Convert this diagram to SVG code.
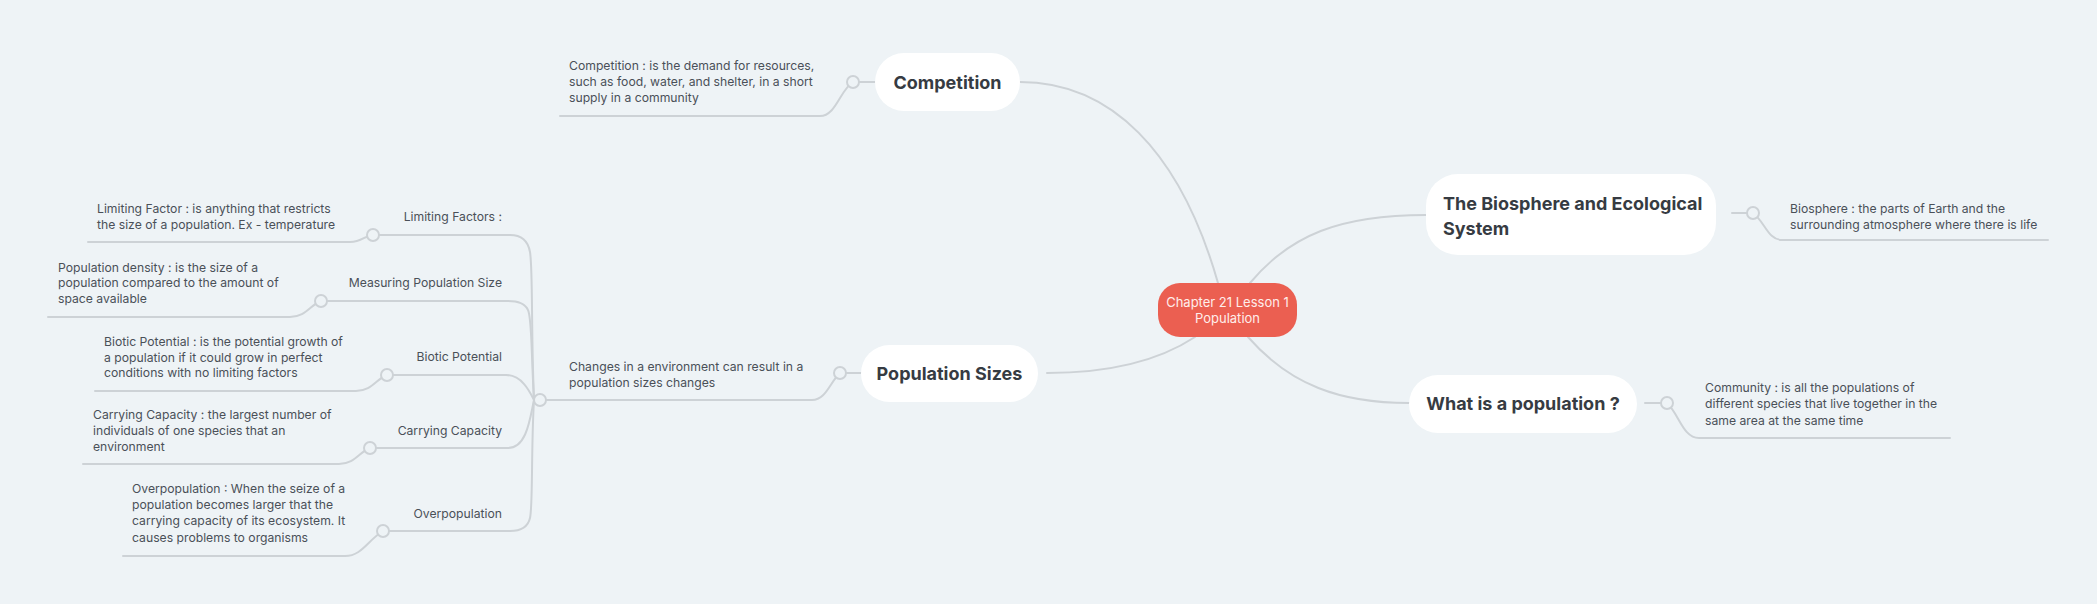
<svg xmlns="http://www.w3.org/2000/svg" width="2097" height="604" viewBox="0 0 2097 604">
<style>
.bg{fill:#EEF3F6}
.ln{fill:none;stroke:#CDD2D6;stroke-width:2;stroke-linecap:round}
.dot{fill:#EEF3F6;stroke:#CDD2D6;stroke-width:2}
.node{fill:#FFFFFF}
.root{fill:#EB5F51}
.t1{font-family:Inter,"Noto Sans",sans-serif;font-weight:700;font-size:18px;fill:#363B42}
.t0{font-family:Inter,"Noto Sans",sans-serif;font-size:13px;fill:#FFEDEA}
.s{font-family:Inter,"Noto Sans",sans-serif;font-size:12.2px;fill:#4A5058}
.e{text-anchor:end}
.m{text-anchor:middle}
</style>
<rect class="bg" x="0" y="0" width="2097" height="604"/>
<g id="connectors">
  <path class="ln" d="M1020,82 C1110,82 1180,150 1218,283"/>
  <path class="ln" d="M1250,283 C1290,235 1340,215 1426,215"/>
  <path class="ln" d="M1248,337 C1290,385 1340,403 1409,403"/>
  <path class="ln" d="M1047,373 C1110,373 1160,360 1195,337"/>
  <!-- competition -->
  <path class="ln" d="M859,82 H875"/>
  <path class="ln" d="M560,116 H820 C836,116 840,90 853,82"/>
  <!-- biosphere -->
  <path class="ln" d="M1732,213 H1747"/>
  <path class="ln" d="M1753,213 C1765,222 1768,240 1782,240 H2048"/>
  <!-- population -->
  <path class="ln" d="M1645,403 H1661"/>
  <path class="ln" d="M1667,403 C1679,414 1683,438 1699,438 H1950"/>
  <!-- population sizes -->
  <path class="ln" d="M846,373 H861"/>
  <path class="ln" d="M546,400 H812 C826,400 830,382 840,373"/>
  <!-- left branches -->
  <path class="ln" d="M534,400 C531,330 533,270 530,252 Q527,235 510,235 H373"/>
  <path class="ln" d="M534,400 C531,350 532,318 528,310 Q524,301 508,301 H321"/>
  <path class="ln" d="M534,400 C530,392 522,375 506,375 H387"/>
  <path class="ln" d="M534,400 C530,418 527,448 508,448 H370"/>
  <path class="ln" d="M534,400 C531,450 533,505 530,518 Q527,531 510,531 H383"/>
  <path class="ln" d="M88,242 H350 C362,242 364,236 373,235"/>
  <path class="ln" d="M48,317 H290 C306,317 310,305 321,301"/>
  <path class="ln" d="M95,391 H356 C372,391 376,379 387,375"/>
  <path class="ln" d="M83,464 H339 C355,464 359,452 370,448"/>
  <path class="ln" d="M123,556 H345 C362,556 368,540 383,531"/>
  <circle class="dot" cx="853" cy="82" r="6"/>
  <circle class="dot" cx="1753" cy="213" r="6"/>
  <circle class="dot" cx="1667" cy="403" r="6"/>
  <circle class="dot" cx="840" cy="373" r="6"/>
  <circle class="dot" cx="540" cy="400" r="6"/>
  <circle class="dot" cx="373" cy="235" r="6"/>
  <circle class="dot" cx="321" cy="301" r="6"/>
  <circle class="dot" cx="387" cy="375" r="6"/>
  <circle class="dot" cx="370" cy="448" r="6"/>
  <circle class="dot" cx="383" cy="531" r="6"/>
</g>
<g id="root">
  <rect class="root" x="1158" y="283" width="139" height="54" rx="22"/>
  <text class="t0 m" x="1227.5" y="307">Chapter 21 Lesson 1</text>
  <text class="t0 m" x="1227.5" y="323">Population</text>
</g>
<g id="competition">
  <rect class="node" x="875" y="53" width="145" height="58" rx="29"/>
  <text class="t1 m" x="947.5" y="88.5">Competition</text>
</g>
<g id="competition-desc">
  <text class="s" x="569" y="69.5">Competition : is the demand for resources,</text>
  <text class="s" x="569" y="86">such as food, water, and shelter, in a short</text>
  <text class="s" x="569" y="102">supply in a community</text>
</g>
<g id="biosphere">
  <rect class="node" x="1426" y="174" width="290" height="81" rx="32"/>
  <text class="t1" x="1443" y="209.5">The Biosphere and Ecological</text>
  <text class="t1" x="1443" y="234.5">System</text>
</g>
<g id="biosphere-desc">
  <text class="s" x="1790" y="212.5">Biosphere : the parts of Earth and the</text>
  <text class="s" x="1790" y="228.5">surrounding atmosphere where there is life</text>
</g>
<g id="population">
  <rect class="node" x="1409" y="375" width="228" height="58" rx="29"/>
  <text class="t1 m" x="1523" y="409.5">What is a population ?</text>
</g>
<g id="population-desc">
  <text class="s" x="1705" y="391.5">Community : is all the populations of</text>
  <text class="s" x="1705" y="408">different species that live together in the</text>
  <text class="s" x="1705" y="424.5">same area at the same time</text>
</g>
<g id="population-sizes">
  <rect class="node" x="861" y="345" width="177" height="57" rx="28.5"/>
  <text class="t1 m" x="949.5" y="379.5">Population Sizes</text>
</g>
<g id="changes">
  <text class="s" x="569" y="370.5">Changes in a environment can result in a</text>
  <text class="s" x="569" y="386.5">population sizes changes</text>
</g>
<g id="limiting-factors">
  <text class="s e" x="502" y="220.5">Limiting Factors :</text>
</g>
<g id="limiting-desc">
  <text class="s" x="97" y="212.5">Limiting Factor : is anything that restricts</text>
  <text class="s" x="97" y="228.5">the size of a population. Ex - temperature</text>
</g>
<g id="measuring">
  <text class="s e" x="502" y="286.5">Measuring Population Size</text>
</g>
<g id="measuring-desc">
  <text class="s" x="58" y="271.5">Population density : is the size of a</text>
  <text class="s" x="58" y="287">population compared to the amount of</text>
  <text class="s" x="58" y="302.5">space available</text>
</g>
<g id="biotic">
  <text class="s e" x="502" y="360.5">Biotic Potential</text>
</g>
<g id="biotic-desc">
  <text class="s" x="104" y="345.5">Biotic Potential : is the potential growth of</text>
  <text class="s" x="104" y="361.5">a population if it could grow in perfect</text>
  <text class="s" x="104" y="377">conditions with no limiting factors</text>
</g>
<g id="carrying">
  <text class="s e" x="502" y="434.5">Carrying Capacity</text>
</g>
<g id="carrying-desc">
  <text class="s" x="93" y="418.5">Carrying Capacity : the largest number of</text>
  <text class="s" x="93" y="434.5">individuals of one species that an</text>
  <text class="s" x="93" y="451">environment</text>
</g>
<g id="overpopulation">
  <text class="s e" x="502" y="517.5">Overpopulation</text>
</g>
<g id="overpopulation-desc">
  <text class="s" x="132" y="492.5">Overpopulation : When the seize of a</text>
  <text class="s" x="132" y="508.5">population becomes larger that the</text>
  <text class="s" x="132" y="525">carrying capacity of its ecosystem. It</text>
  <text class="s" x="132" y="542">causes problems to organisms</text>
</g>
</svg>
